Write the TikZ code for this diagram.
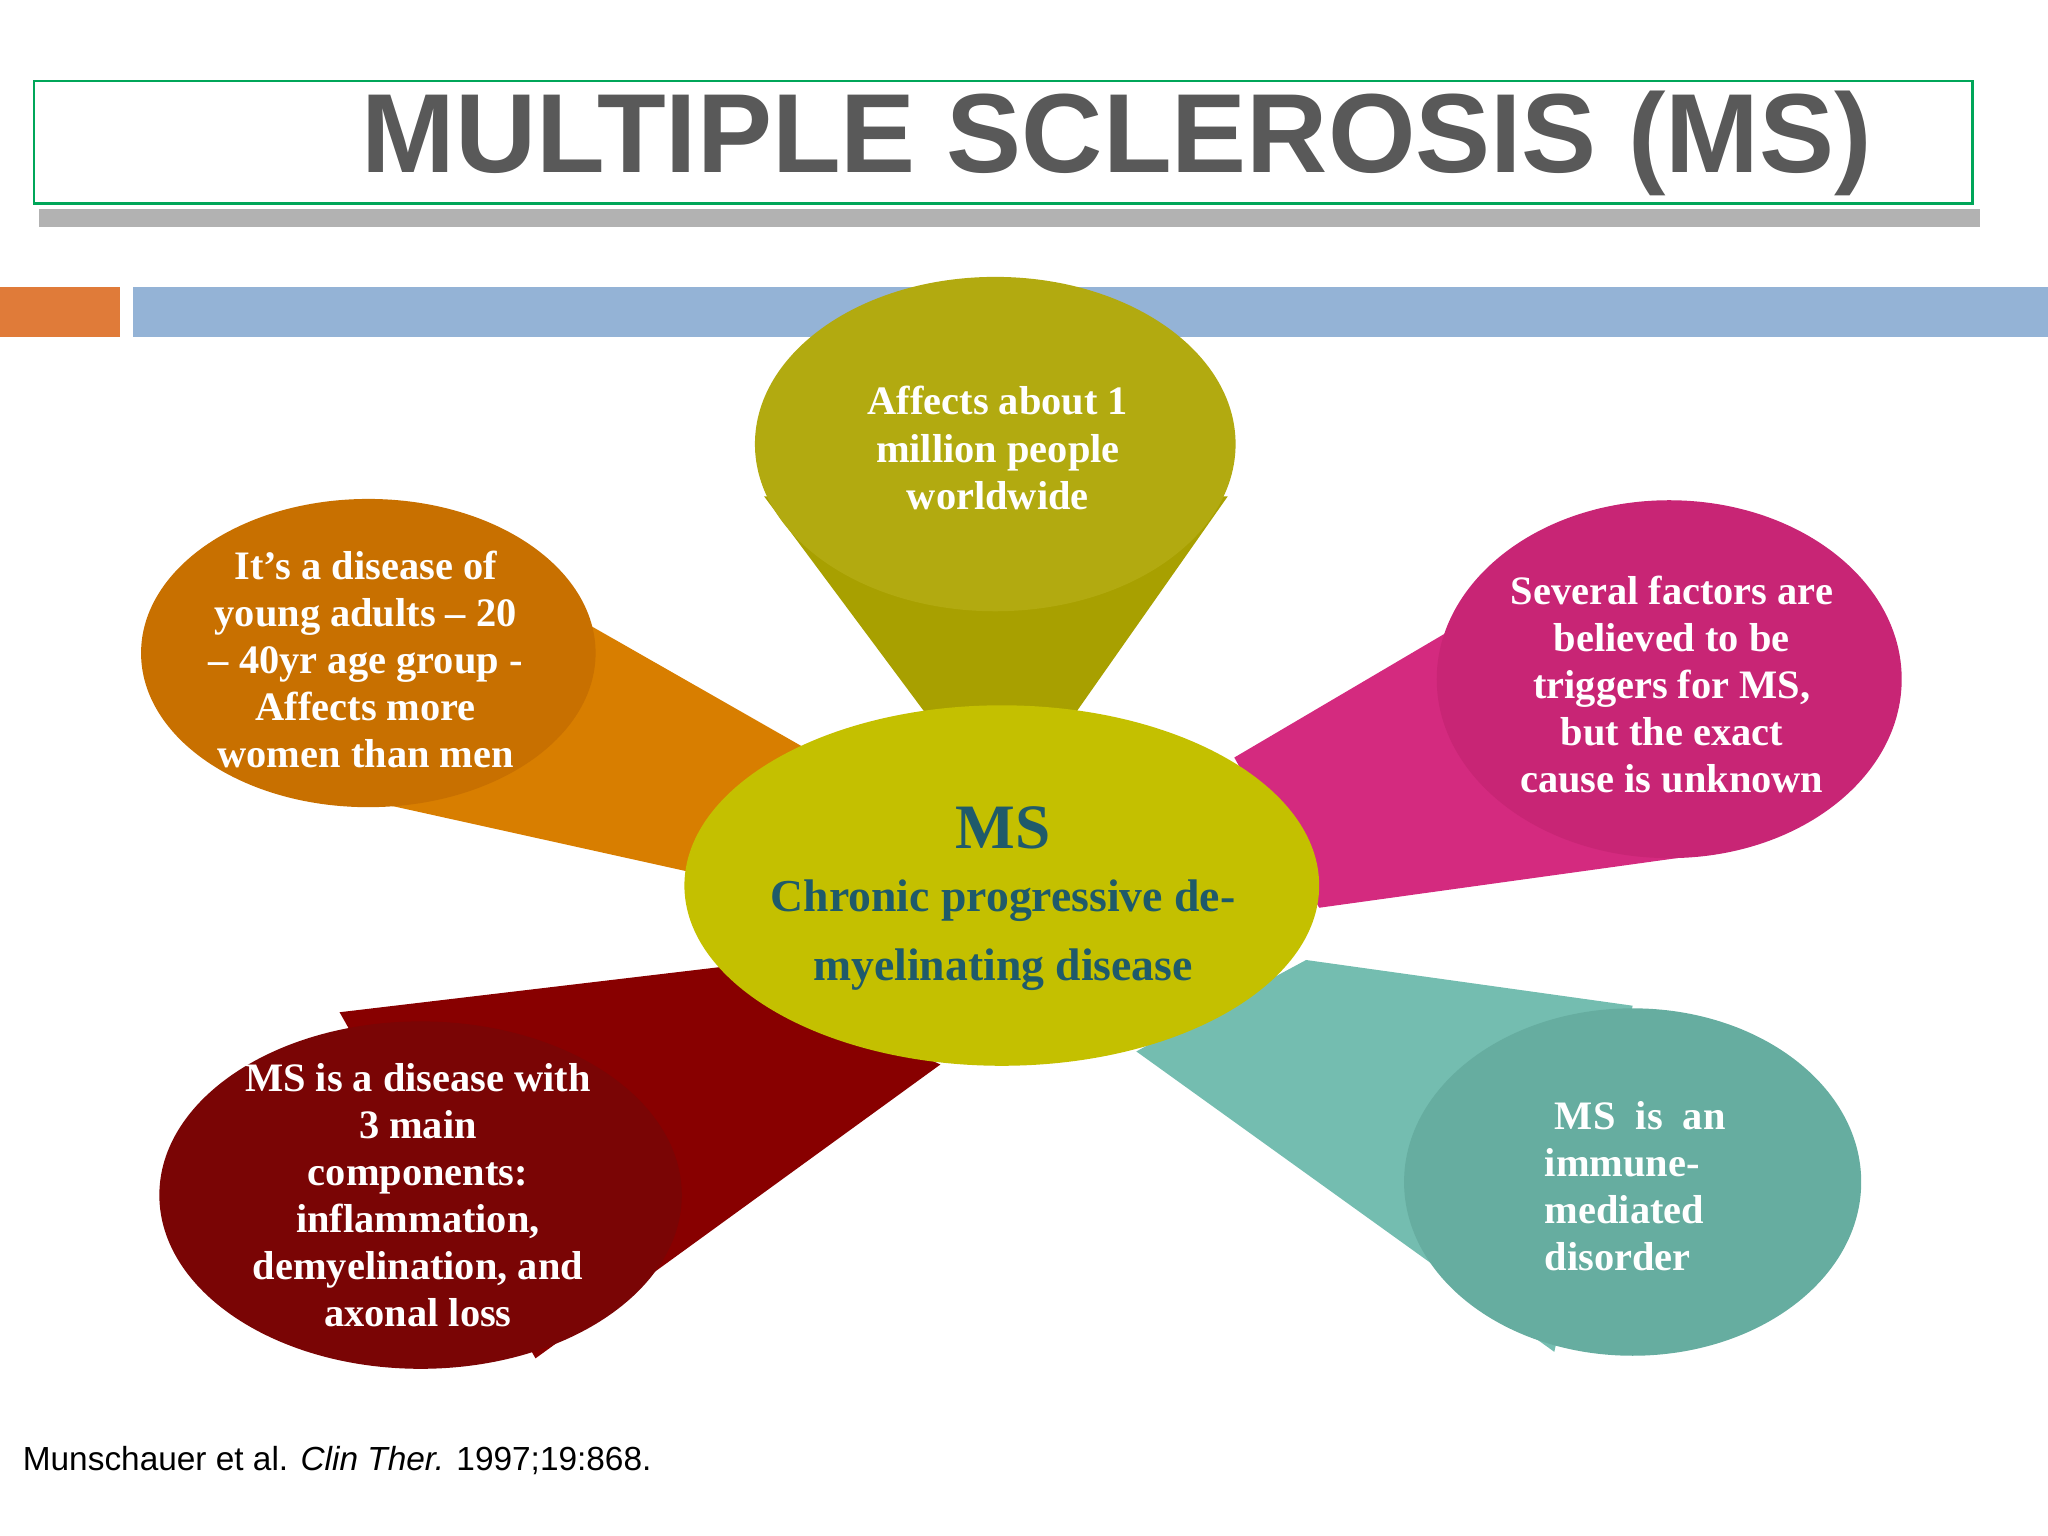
\documentclass[tikz,border=0pt]{standalone}
\usepackage{fontspec}
\setmainfont{Liberation Serif}
\newfontfamily\titlefont{Liberation Sans}
\definecolor{msolive}{HTML}{A8A000}
\definecolor{msoliveend}{HTML}{B2AA10}
\definecolor{msorange}{HTML}{D87E00}
\definecolor{msorangeend}{HTML}{C87000}
\definecolor{msmagenta}{HTML}{D42A7F}
\definecolor{msmagentaend}{HTML}{C82575}
\definecolor{msred}{HTML}{880000}
\definecolor{msredend}{HTML}{7A0505}
\definecolor{msteal}{HTML}{74BDB0}
\definecolor{mstealend}{HTML}{66ADA0}
\definecolor{mscenter}{HTML}{C4C000}
\definecolor{mstext}{HTML}{1F5A6A}
\definecolor{msbarorange}{HTML}{E07B39}
\definecolor{msbarblue}{HTML}{94B3D6}
\tikzset{
  petal/.style={draw=none, fill=#1},
  petaltext/.style={text=white, font=\fontsize{11.5}{13.4}\selectfont\bfseries, align=center},
}
\begin{document}
\begin{tikzpicture}[x=0.01306cm, y=-0.01306cm]
\useasboundingbox (0,0) rectangle (1568,1176);

% title box
\fill[gray!60] (30,160) rectangle (1516,174);
\draw[draw=teal!70!green, fill=white, line width=0.8pt] (26,62) rectangle (1510,156);
\node (title) at (855,110) {\titlefont\fontsize{32}{36}\selectfont\bfseries\color{black!65} MULTIPLE SCLEROSIS (MS)};

% bars
\fill[msbarorange] (0,220) rectangle (92,258);
\fill[msbarblue] (102,220) rectangle (1568,258);

% petals
\fill[petal=msolive] (710,548) -- (585,380) -- (940,380) -- (822,548) -- cycle;
\fill[petal=msoliveend] (762,340) ellipse (184 and 128);
\fill[petal=msorange] (615,572) -- (282,382) -- (178,590) -- (530,668) -- cycle;
\fill[petal=msorangeend] (282,500) ellipse (174 and 118);
\fill[petal=msmagenta] (945,580) -- (1278,384) -- (1320,652) -- (1010,695) -- cycle;
\fill[petal=msmagentaend] (1278,520) ellipse (178 and 137);
\fill[petal=msred] (555,740) -- (260,775) -- (410,1040) -- (720,815) -- cycle;
\fill[petal=msredend] (322,915) ellipse (200 and 133);
\fill[petal=msteal] (1000,735) -- (1250,770) -- (1190,1035) -- (870,805) -- cycle;
\fill[petal=mstealend] (1250,905) ellipse (175 and 133);
\fill[petal=mscenter] (767,678) ellipse (243 and 138);

% texts
\node[petaltext] (top) at (764,343) {Affects about 1\\million people\\worldwide};
\node[petaltext] (young) at (280,505) {It’s a disease of\\young adults – 20\\– 40yr age group -\\Affects more\\women than men};
\node[petaltext] (factors) at (1280,524) {Several factors are\\believed to be\\triggers for MS,\\but the exact\\cause is unknown};
\node[petaltext] (components) at (320,915) {MS is a disease with\\3 main\\components:\\inflammation,\\demyelination, and\\axonal loss};
\node[petaltext, align=left] (immune) at (1252,908) {\ MS\ \ is\ \ an\\immune-\\mediated\\disorder};
\node[text=mstext, font=\fontsize{18}{20}\selectfont\bfseries] (ms) at (768,634) {MS};
\node[text=mstext, font=\fontsize{13}{19.5}\selectfont\bfseries, align=center] (chronic) at (768,716) {Chronic progressive de-\\myelinating disease};

% reference
\node[anchor=west, font=\titlefont\fontsize{9.5}{11}\selectfont] (ref) at (8,1118) {Munschauer et al. \textit{Clin Ther.} 1997;19:868.};
\end{tikzpicture}
\end{document}
